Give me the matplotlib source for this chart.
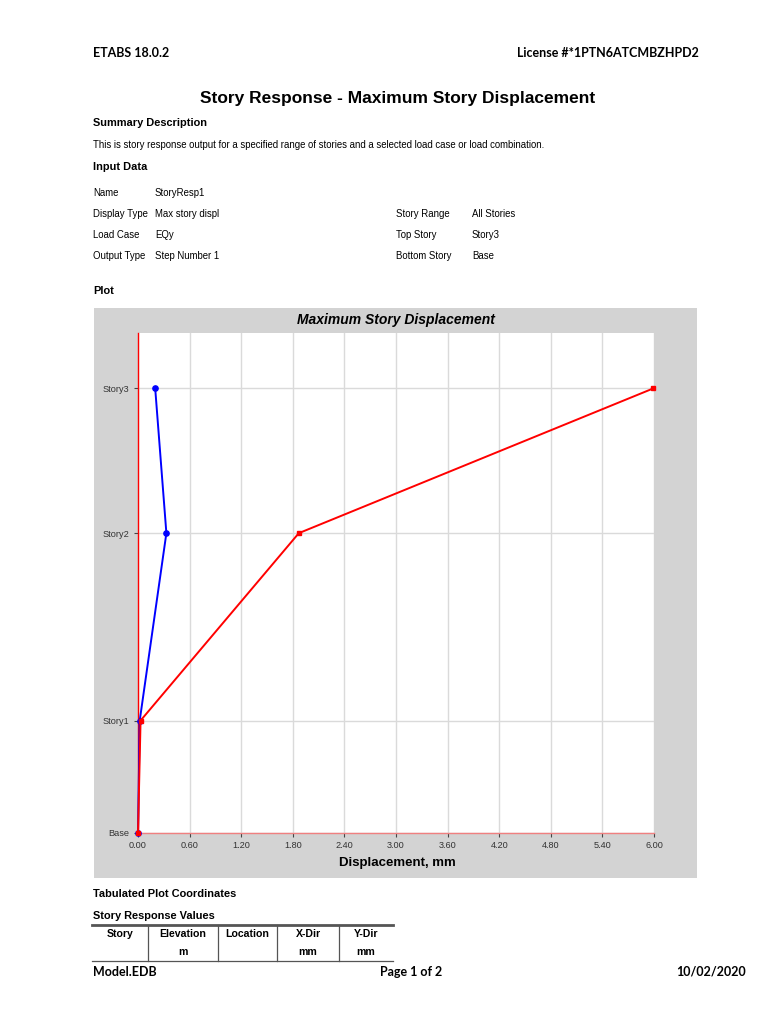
import numpy as np
import matplotlib.pyplot as plt
from matplotlib.patches import Rectangle

# data
stories = ['Base', 'Story1', 'Story2', 'Story3']
elevation = [0.0, 1.5, 4.0, 5.93]
x_dir = [0.0, 0.02, 0.33, 0.20]
y_dir = [0.0, 0.03, 1.87, 5.99]
xticks = [0.0, 0.6, 1.2, 1.8, 2.4, 3.0, 3.6, 4.2, 4.8, 5.4, 6.0]

W, H = 768, 1024
fig = plt.figure(figsize=(7.68, 10.24), dpi=100)
hdr = 'Lato'
body = 'Liberation Sans'


def px(x, y):
    return x / W, 1 - y / H


def txt(x, y, s, size=6.9, weight='normal', ha='left', family=body, **kw):
    fx, fy = px(x, y)
    fig.text(fx, fy, s, fontsize=size, fontweight=weight, ha=ha, va='center',
             family=family, **kw)


# page header / footer
txt(93, 53, 'ETABS 18.0.2', size=9, family=hdr, weight='bold')
txt(699, 53, 'License #*1PTN6ATCMBZHPD2', size=9, family=hdr, ha='right', weight='bold')
txt(398, 98, 'Story Response - Maximum Story Displacement', size=12.5,
    weight='bold', ha='center')
txt(93, 123, 'Summary Description', size=7.9, weight='bold')
txt(93, 145, 'This is story response output for a specified range of stories and a selected load case or load combination.')
txt(93, 167, 'Input Data', size=7.9, weight='bold')

rows = [('Name', 'StoryResp1', '', ''),
        ('Display Type', 'Max story displ', 'Story Range', 'All Stories'),
        ('Load Case', 'EQy', 'Top Story', 'Story3'),
        ('Output Type', 'Step Number 1', 'Bottom Story', 'Base')]
for i, r in enumerate(rows):
    y = 193 + i * 21
    for xx, s in zip([93, 155, 396, 472], r):
        txt(xx, y, s)
txt(93, 291, 'Plot', size=7.9, weight='bold')

# grey panel behind the chart
gx0, gy0 = px(94, 878)
gx1, gy1 = px(697, 308)
fig.patches.append(Rectangle((gx0, gy0), gx1 - gx0, gy1 - gy0, transform=fig.transFigure,
                             facecolor='#d3d3d3', edgecolor='none', zorder=-5))

l, b = px(138, 833)
r, t = px(654, 333)
ax = fig.add_axes([l, b, r - l, t - b])
ax.set_zorder(2)
ax.set_facecolor('white')
ax.set_xlim(0, 6.0)
ax.set_ylim(0, 6.67)
ax.set_xticks(xticks)
ax.set_xticklabels(['%.2f' % v for v in xticks], fontsize=6.6, family=body, color='#333333')
ax.set_yticks(elevation)
ax.set_yticklabels(stories, fontsize=6.6, family=body, color='#333333')
ax.tick_params(length=3, width=0.8, color='#444444', pad=3)
ax.grid(True, color='#dadada', linewidth=1)
ax.set_axisbelow(True)
for s in ['top', 'right']:
    ax.spines[s].set_visible(False)
ax.spines['left'].set_color('red')
ax.spines['left'].set_linewidth(1)
ax.spines['bottom'].set_color('#f08080')
ax.spines['bottom'].set_linewidth(1)

ax.plot(x_dir, elevation, color='#0000ff', linewidth=1.4, marker='o', markersize=3.8,
        clip_on=False, zorder=3)
ax.plot(y_dir, elevation, color='#ff0000', linewidth=1.4, marker='s', markersize=3.5,
        clip_on=False, zorder=4)

txt(396, 320, 'Maximum Story Displacement', size=10, weight='bold', ha='center',
    style='italic')
txt(397, 863, 'Displacement, mm', size=9.5, weight='bold', ha='center')

# table section
txt(93, 894, 'Tabulated Plot Coordinates', size=7.9, weight='bold')
txt(93, 916, 'Story Response Values', size=7.9, weight='bold')
cols = [92, 148, 218, 277, 339, 393]
heads = ['Story', 'Elevation', 'Location', 'X-Dir', 'Y-Dir']
units = ['', 'm', '', 'mm', 'mm']
for i in range(5):
    cx = (cols[i] + cols[i + 1]) / 2
    txt(cx, 934, heads[i], size=7.6, weight='bold', ha='center')
    txt(cx, 952, units[i], size=7.6, weight='bold', ha='center')
for xx in cols[1:-1]:
    fig.add_artist(plt.Line2D([xx / W, xx / W], [1 - 925 / H, 1 - 961 / H],
                              color='#555555', linewidth=0.9))
fig.add_artist(plt.Line2D([92 / W, 393 / W], [1 - 925 / H] * 2, color='#555555', linewidth=2))
fig.add_artist(plt.Line2D([92 / W, 393 / W], [1 - 961 / H] * 2, color='#555555', linewidth=0.9))

txt(93, 972, 'Model.EDB', size=9, family=hdr, weight='bold')
txt(411, 972, 'Page 1 of 2', size=9, family=hdr, ha='center', weight='bold')
txt(746, 972, '10/02/2020', size=9, family=hdr, ha='right', weight='bold')

fig.savefig('out.png', dpi=100, facecolor='white')
